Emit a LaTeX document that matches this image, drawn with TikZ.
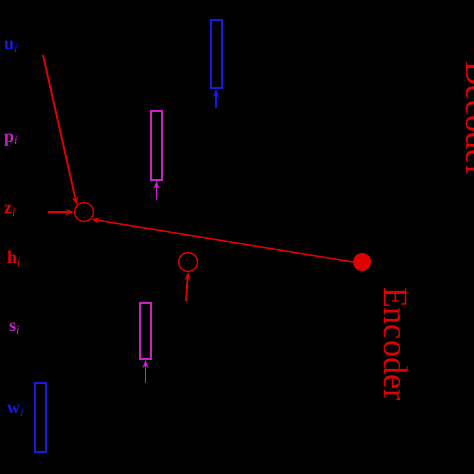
\documentclass[tikz,border=0pt]{standalone}
\usepackage{fontspec}
\setmainfont{Liberation Serif}
\usetikzlibrary{arrows.meta}
\definecolor{cred}{RGB}{225,0,0}
\definecolor{cblue}{RGB}{25,25,225}
\definecolor{cmag}{RGB}{205,30,205}
\tikzset{
  lbl/.style={inner sep=0pt, anchor=west, font=\fontsize{18}{18}\selectfont},
  bar/.style={draw, line width=2pt, minimum width=11pt, inner sep=0pt},
  ring/.style={circle, draw=cred, line width=1.3pt, minimum size=19pt, inner sep=0pt},
  arr/.style={line width=1.8pt, -{Stealth[length=8pt,width=6pt]}},
  big/.style={text=cred, rotate=-90, inner sep=0pt, font=\fontsize{34}{34}\selectfont}
}
\begin{document}
\begin{tikzpicture}[x=1pt,y=-1pt]
\fill[black] (0,0) rectangle (474,474);
\useasboundingbox (0,0) rectangle (474,474);
% labels
\node[lbl, text=cblue] (lu) at (4,47) {\textbf{u}\textsubscript{\textit{i}}};
\node[lbl, text=cmag] (lp) at (4,140) {\textbf{p}\textsubscript{\textit{i}}};
\node[lbl, text=cred] (lz) at (4,211) {\textbf{z}\textsubscript{\textit{i}}};
\node[lbl, text=cred] (lh) at (7,259) {\textbf{h}\textsubscript{\textit{i}}};
\node[lbl, text=cmag] (ls) at (9,329) {\textbf{s}\textsubscript{\textit{i}}};
\node[lbl, text=cblue] (lw) at (7,411) {\textbf{w}\textsubscript{\textit{i}}};
% bars
\node[bar, draw=cblue, minimum height=68pt] (b1) at (216,54) {};
\node[bar, draw=cmag, minimum height=69pt] (b2) at (156.5,145.5) {};
\node[bar, draw=cmag, minimum height=56pt] (b3) at (145.5,331) {};
\node[bar, draw=cblue, minimum height=69pt] (b4) at (40.5,417.5) {};
\coordinate (a1) at (216,108);
\coordinate (a2) at (156.5,200);
\coordinate (a3) at (145.5,383);
\draw[arr, cblue] (a1) -- (b1.south);
\draw[arr, cmag] (a2) -- (b2.south);
\draw[arr, cmag] (a3) -- (b3.south);
% circles
\node[ring] (zc) at (84,212) {};
\node[ring] (hc) at (188,262) {};
\fill[cred] (362,262) circle (9pt);
\node[circle, inner sep=0pt, minimum size=18pt] (dot) at (362,262) {};
\coordinate (zin) at (48,212);
\coordinate (uin) at (43,55);
\coordinate (hin) at (186,301);
\draw[arr, cred] (zin) -- (zc.west);
\draw[arr, cred] (uin) -- (zc.north west);
\draw[arr, cred] (hin) -- (hc.south);
\draw[arr, cred, line width=1.5pt] (dot.west) -- (zc.south east);
% side texts
\node[big, anchor=west] (enc) at (396,287) {Encoder};
\node[big, anchor=west] (dec) at (478,61) {Decoder};
\end{tikzpicture}
\end{document}
